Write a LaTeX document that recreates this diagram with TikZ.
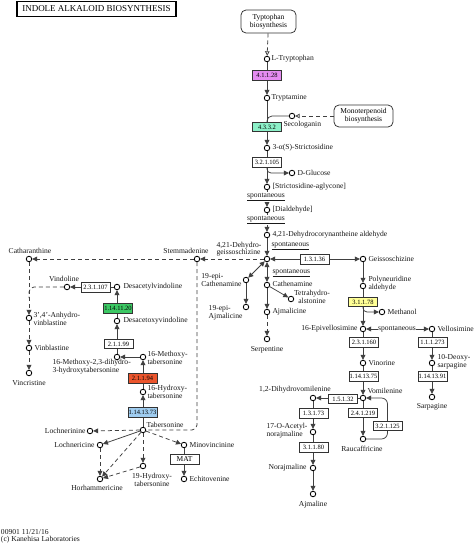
\documentclass[tikz,border=0pt]{standalone}
\usepackage{fontspec}
\setmainfont{Liberation Serif}
\usetikzlibrary{arrows.meta}
\pgfdeclarelayer{bg}
\pgfsetlayers{bg,main}
\definecolor{cMag}{RGB}{228,140,240}
\definecolor{cCyan}{RGB}{140,240,200}
\definecolor{cYel}{RGB}{255,255,150}
\definecolor{cGrn}{RGB}{60,200,100}
\definecolor{cOrg}{RGB}{235,85,45}
\definecolor{cBlu}{RGB}{160,205,240}
\tikzset{
 met/.style={circle,draw=black,line width=0.85pt,fill=white,minimum size=5.5pt,inner sep=0pt},
 enz/.style={draw=black!80,line width=0.7pt,fill=white,minimum width=29pt,minimum height=9.5pt,inner sep=0pt,font=\fontsize{6.5}{7}\selectfont},
 lbl/.style={inner sep=0.3pt,font=\fontsize{7.6}{7.8}\selectfont,text=black!90},
 spon/.style={lbl,fill=white,inner sep=0.6pt},
 ln/.style={line width=0.75pt,draw=black!75},
 ar/.style={ln,-{Triangle[length=5pt,width=4.8pt]}},
 dar/.style={ln,{Triangle[length=5pt,width=4.8pt]}-{Triangle[length=5pt,width=4.8pt]}},
 oar/.style={ln,dsh,-{Triangle[open,length=4.5pt,width=4.5pt]}},
 dsh/.style={dash pattern=on 4pt off 3pt},
 maplink/.style={draw=black!80,line width=0.75pt,rounded corners=5pt,fill=white,align=center,inner sep=1pt,font=\fontsize{7.5}{7.9}\selectfont}
}
\begin{document}
\begin{tikzpicture}[x=1pt,y=-1pt]
\useasboundingbox (0,0) rectangle (474,545);
% title
\node[draw,line width=1.1pt,minimum width=159pt,minimum height=15pt,inner sep=0pt,font=\fontsize{9}{9}\selectfont] (title) at (96.5,9) {INDOLE ALKALOID BIOSYNTHESIS};
% main spine
\node[maplink,minimum width=55pt,minimum height=23pt] (trpmap) at (268.5,21.5) {Typtophan\\biosynthesis};
\node[met] (Ltrp) at (267,59) {};
\node[lbl,anchor=west] (Ltrpl) at (271,59) {L-Tryptophan};
\node[enz,fill=cMag] (e41128) at (267,75.5) {4.1.1.28};
\node[met] (Tryp) at (267,98) {};
\node[lbl,anchor=west] (Trypl) at (271,98) {Tryptamine};
\node[met] (Seco) at (292,116) {};
\node[lbl,anchor=west] (Secol) at (283,125) {Secologanin};
\node[maplink,minimum width=59pt,minimum height=22pt] (monomap) at (363.5,116) {Monoterpenoid\\biosynthesis};
\node[enz,fill=cCyan] (e4332) at (267,127) {4.3.3.2};
\node[met] (Str) at (267,148) {};
\node[lbl,anchor=west] (Strl) at (272,148) {3-α(S)-Strictosidine};
\node[enz] (e32105) at (267,162.5) {3.2.1.105};
\node[met] (Dglc) at (292,173) {};
\node[lbl,anchor=west] (Dglcl) at (297,173) {D-Glucose};
\node[met] (Agl) at (267,187) {};
\node[lbl,anchor=west] (Agll) at (272,187) {[Strictosidine-aglycone]};
\node[spon] (sp1) at (266,197) {\underline{spontaneous}};
\node[met] (Dial) at (267,210) {};
\node[lbl,anchor=west] (Diall) at (272,210) {[Dialdehyde]};
\node[spon] (sp2) at (266,220) {\underline{spontaneous}};
\node[met] (DCA) at (267,235) {};
\node[lbl,anchor=west] (DCAl) at (272,235) {4,21-Dehydrocorynantheine aldehyde};
\node[lbl,anchor=west] (sp3) at (271,246) {\underline{spontaneous}};
\node[met] (Hub) at (267,259) {};
\node[lbl,anchor=south east,align=left] (Hubl) at (262,257) {4,21-Dehydro-\\geissoschizine};
\node[enz] (e13136) at (314.5,259.5) {1.3.1.36};
\node[met] (Geis) at (363,259) {};
\node[lbl,anchor=west] (Geisl) at (368,259) {Geissoschizine};
\node[met] (Stem) at (197,259) {};
\node[lbl] (Steml) at (186,251) {Stemmadenine};
\node[met] (Cath) at (29,259) {};
\node[lbl] (Cathl) at (30,251) {Catharanthine};
\node[lbl,anchor=west] (sp4) at (272,273) {\underline{spontaneous}};
\node[met] (eCat) at (246,280) {};
\node[lbl,anchor=east,align=left] (eCatl) at (242,280) {19-epi-\\Cathenamine};
\node[met] (eAjm) at (246,307) {};
\node[lbl,anchor=east,align=left] (eAjml) at (243,313) {19-epi-\\Ajmalicine};
\node[met] (Catn) at (267,285) {};
\node[lbl,anchor=west] (Catnl) at (272,284) {Cathenamine};
\node[met] (THA) at (291,299) {};
\node[lbl,align=center] (THAl) at (312,297) {Tetrahydro-\\alstonine};
\node[met] (Ajc) at (267,312) {};
\node[lbl,anchor=west] (Ajcl) at (272,312) {Ajmalicine};
\node[met] (Serp) at (267,339) {};
\node[lbl] (Serpl) at (267,350) {Serpentine};
% right branch
\node[met] (PA) at (363,286) {};
\node[lbl,anchor=west,align=left] (PAl) at (368,284) {Polyneuridine\\aldehyde};
\node[enz,fill=cYel] (e31178) at (363,302) {3.1.1.78};
\node[met] (MeOH) at (382,312) {};
\node[lbl,anchor=west] (MeOHl) at (387,312) {Methanol};
\node[met] (EpiV) at (363,329) {};
\node[lbl,anchor=east] (EpiVl) at (358,329) {16-Epivellosimine};
\node[met] (Vel) at (432,329) {};
\node[lbl,anchor=west] (Vell) at (437,329) {Vellosimine};
\node[spon] (sp5) at (397,329) {spontaneous};
\node[enz] (e231160) at (364,342.5) {2.3.1.160};
\node[met] (Vin) at (363,363) {};
\node[lbl,anchor=west] (Vinl) at (368,363) {Vinorine};
\node[enz] (e1141375) at (363.5,376.5) {1.14.13.75};
\node[met] (Vom) at (363,398) {};
\node[lbl,anchor=west] (Voml) at (367,391) {Vomilenine};
\node[enz] (e111273) at (432.5,342.5) {1.1.1.273};
\node[met] (DeoS) at (432,363) {};
\node[lbl,anchor=west,align=left] (DeoSl) at (437,362) {10-Deoxy-\\sarpagine};
\node[enz] (e1141391) at (432.5,376.5) {1.14.13.91};
\node[met] (Sarp) at (432,397) {};
\node[lbl] (Sarpl) at (432,407) {Sarpagine};
\node[enz] (e15132) at (343,399) {1.5.1.32};
\node[met] (DHV) at (313,398) {};
\node[lbl] (DHVl) at (295,390) {1,2-Dihydrovomilenine};
\node[enz] (e241219) at (363,413) {2.4.1.219};
\node[met] (Rauc) at (363,439) {};
\node[lbl] (Raucl) at (362,449) {Raucaffricine};
\node[enz] (e321125) at (387.5,426) {3.2.1.125};
\node[enz] (e13173) at (313.5,413.5) {1.3.1.73};
\node[met] (ANA) at (313,432) {};
\node[lbl,anchor=east,align=left] (ANAl) at (308,431) {17-O-Acetyl-\\norajmaline};
\node[enz] (e31180) at (313.5,447.5) {3.1.1.80};
\node[met] (Nor) at (313,468) {};
\node[lbl,anchor=east] (Norl) at (307,468) {Norajmaline};
\node[met] (Ajm) at (313,494) {};
\node[lbl] (Ajml) at (313,505) {Ajmaline};
% left part
\node[met] (AVB) at (29,318) {};
\node[lbl,anchor=west,align=left] (AVBl) at (33,319) {3',4'-Anhydro-\\vinblastine};
\node[met] (Vinb) at (29,348) {};
\node[lbl,anchor=west] (Vinbl) at (34,348) {Vinblastine};
\node[met] (Vinc) at (29,373) {};
\node[lbl] (Vincl) at (29,383) {Vincristine};
\coordinate (vj) at (29,298);
\node[met] (Vindo) at (67,287) {};
\node[lbl] (Vindol) at (64,279) {Vindoline};
\node[enz] (e231107) at (95.5,287.5) {2.3.1.107};
\node[met] (DAV) at (117,287) {};
\node[lbl,anchor=west] (DAVl) at (123,287) {Desacetylvindoline};
\node[enz,fill=cGrn] (e1141120) at (118,308.5) {1.14.11.20};
\node[met] (DAO) at (117,321) {};
\node[lbl,anchor=west] (DAOl) at (123,321) {Desacetoxyvindoline};
\node[enz] (e21199) at (118.5,344) {2.1.1.99};
\node[met] (DMHT) at (117,357) {};
\node[lbl,anchor=north west,align=left] (DMHTl) at (52,359) {16-Methoxy-2,3-dihydro-\\3-hydroxytabersonine};
\node[met] (MTab) at (143,357) {};
\node[lbl,anchor=west,align=left] (MTabl) at (147,358) {16-Methoxy-\\tabersonine};
\node[enz,fill=cOrg] (e21194) at (142.5,378.5) {2.1.1.94};
\node[met] (HTab) at (143,392) {};
\node[lbl,anchor=west,align=left] (HTabl) at (147,392) {16-Hydroxy-\\tabersonine};
\node[enz,fill=cBlu] (e1141373) at (142.5,412.5) {1.14.13.73};
\node[met] (Tab) at (143,430) {};
\node[lbl,anchor=south west] (Tabl) at (146,428) {Tabersonine};
\node[met] (Lnn) at (90,431) {};
\node[lbl,anchor=east] (Lnnl) at (86,431) {Lochnerinine};
\node[met] (Lnc) at (100,445) {};
\node[lbl,anchor=east] (Lncl) at (95,445) {Lochnericine};
\node[met] (Minov) at (184,445) {};
\node[lbl,anchor=west] (Minovl) at (189,445) {Minovincinine};
\node[enz] (MAT) at (184.5,459.5) {\fontsize{7.5}{8}\selectfont MAT};
\node[met] (Echi) at (184,479) {};
\node[lbl,anchor=west] (Echil) at (189,479) {Echitovenine};
\node[met] (HydT) at (143,466) {};
\node[lbl,align=center] (HydTl) at (152,480) {19-Hydroxy-\\tabersonine};
\node[met] (Hor) at (100,479) {};
\node[lbl] (Horl) at (97,488) {Horhammericine};
% footer
\node[lbl,anchor=west] (foot1) at (0.5,532) {00901 11/21/16};
\node[lbl,anchor=west] (foot2) at (0.5,540) {(c) Kanehisa Laboratories};
% connectors
\begin{pgfonlayer}{bg}
\fill[white] (0,0) rectangle (474,545);
\draw[oar] (trpmap) -- (Ltrp);
\draw[ar] (Ltrp) -- (Tryp);
\draw[oar] (monomap) -- (Seco);
\draw[ar] (Tryp) -- (Str);
\draw[ln,rounded corners=5pt] (Seco) -| (e4332.north);
\draw[ar] (Str) -- (Agl);
\draw[ar,rounded corners=4pt] (e32105.south) |- (Dglc);
\draw[ar] (Agl) -- (Dial);
\draw[ar] (Dial) -- (DCA);
\draw[ar] (DCA) -- (Hub);
\draw[dar] (Hub) -- (Geis);
\draw[ar,dsh] (Hub) -- (Stem);
\draw[ar,dsh] (Stem) -- (Cath);
\draw[dar] (Hub) -- (eCat);
\draw[ar] (eCat) -- (eAjm);
\draw[dar] (Hub) -- (Catn);
\draw[ar] (Catn) -- (THA);
\draw[ar] (Catn) -- (Ajc);
\draw[ar,dsh] (Ajc) -- (Serp);
\draw[ar] (Geis) -- (PA);
\draw[ar] (PA) -- (EpiV);
\draw[ar,rounded corners=4pt] (e31178.south) |- (MeOH);
\draw[dar] (EpiV) -- (Vel);
\draw[ar] (EpiV) -- (Vin);
\draw[ar] (Vin) -- (Vom);
\draw[ar] (Vel) -- (DeoS);
\draw[ar] (DeoS) -- (Sarp);
\draw[ar] (Vom) -- (DHV);
\draw[ar] (Vom) -- (Rauc);
\draw[ln,rounded corners=6pt] (Rauc) -| (e321125.south);
\draw[ar,rounded corners=6pt] (e321125.north) |- (Vom);
\draw[ar] (DHV) -- (ANA);
\draw[ar] (ANA) -- (Nor);
\draw[ar] (Nor) -- (Ajm);
\draw[ar,dsh] (Cath) -- (AVB);
\draw[ln,dsh,rounded corners=5pt] (Vindo) -| (vj);
\draw[ar,dsh] (AVB) -- (Vinb);
\draw[ar,dsh] (Vinb) -- (Vinc);
\draw[ar] (DAV) -- (Vindo);
\draw[ar] (DAO) -- (DAV);
\draw[ar] (DMHT) -- (DAO);
\draw[ar] (MTab) -- (DMHT);
\draw[ar] (HTab) -- (MTab);
\draw[ar] (Tab) -- (HTab);
\draw[ln,dsh,rounded corners=5pt] (Stem) |- (Tab);
\draw[ar,dsh] (Tab) -- (Lnn);
\draw[ar] (Tab) -- (Lnc);
\draw[ar,dsh] (Tab) -- (Minov);
\draw[ar] (Minov) -- (Echi);
\draw[ar,dsh] (Tab) -- (HydT);
\draw[ar,dsh] (Lnc) -- (Hor);
\draw[ar,dsh] (Tab) -- (Hor);
\draw[ar,dsh] (HydT) -- (Hor);
\end{pgfonlayer}
\end{tikzpicture}
\end{document}
